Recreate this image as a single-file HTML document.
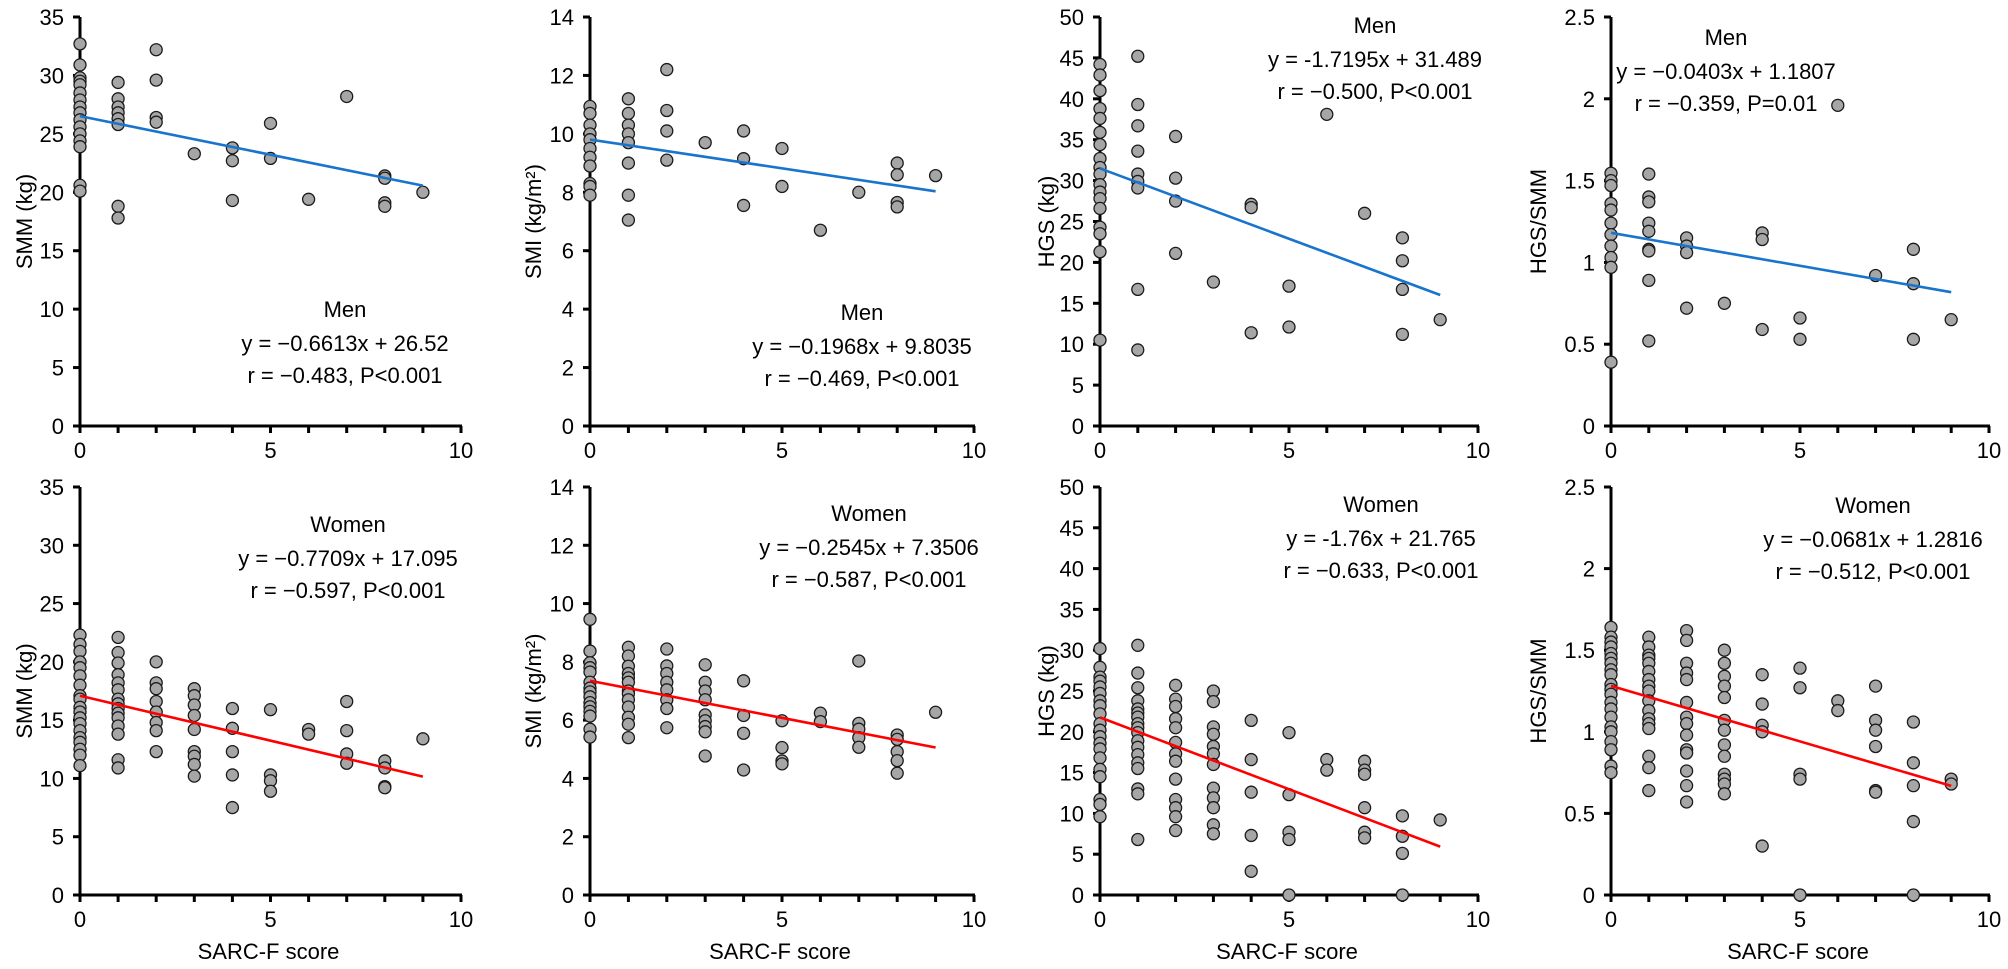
<!DOCTYPE html>
<html><head><meta charset="utf-8">
<style>
html,body{margin:0;padding:0;background:#fff;}
svg{display:block;font-family:"Liberation Sans",Arial,sans-serif;}
</style></head>
<body>
<svg id="chart" width="2008" height="969" viewBox="0 0 2008 969" xmlns="http://www.w3.org/2000/svg"></svg>
<script>
// ---- data: values grouped by SARC-F score (index = score 0..9) ----
const menSMM = [
 [32.7,30.9,29.8,29.5,29.2,28.5,27.9,27.3,26.8,26.2,25.6,25.0,24.4,23.9,20.6,20.1],
 [29.4,28.0,27.3,26.8,26.3,25.8,18.8,17.8],
 [32.2,29.6,26.4,26.0],[23.3],[23.8,22.7,19.3],[25.9,22.9],[19.4],[28.2],
 [21.4,21.2,19.1,18.8],[20.0]];
const menSMI = [
 [10.94,10.7,10.3,10.0,9.8,9.5,9.2,8.9,8.3,8.2,7.9],
 [11.2,10.7,10.3,10.0,9.7,9.0,7.9,7.05],
 [12.2,10.8,10.1,9.1],[9.7],[10.1,9.15,7.55],[9.5,8.2],[6.7],[8.0],
 [9.0,8.6,7.65,7.5],[8.57]];
const menHGS = [
 [44.2,42.9,41.0,38.8,37.6,35.9,34.4,32.7,31.6,30.8,29.5,28.6,27.8,26.6,24.3,23.5,21.3,10.5],
 [45.2,39.3,36.7,33.6,30.8,29.9,29.1,16.7,9.3],
 [35.4,30.3,27.5,21.1],[17.6],[27.1,26.7,11.4],[17.1,12.1],[38.1],[26.0],
 [23.0,20.2,16.7,11.2],[13.0]];
const menRatio = [
 [1.545,1.50,1.47,1.36,1.32,1.24,1.17,1.10,1.03,0.97,0.39],
 [1.54,1.40,1.37,1.24,1.19,1.08,1.07,0.89,0.52],
 [1.15,1.10,1.06,0.72],[0.75],[1.18,1.14,0.59],[0.66,0.53],[1.96],[0.92],
 [1.08,0.87,0.53],[0.65]];
const womenSMM = [
 [22.3,21.5,20.9,20.0,19.5,18.8,18.0,17.1,16.8,16.1,15.7,15.2,14.7,14.1,13.5,13.1,12.5,12.0,11.1],
 [22.1,20.8,19.9,18.9,18.2,17.6,16.8,16.4,16.0,15.6,15.2,14.5,13.8,11.6,10.9],
 [20.0,18.2,17.7,16.6,15.7,14.8,14.1,12.3],
 [17.7,17.1,16.3,15.4,14.2,12.3,11.9,11.2,10.2],
 [16.0,14.3,12.3,10.3,7.5],[15.9,10.3,9.8,8.9],[14.2,13.8],[16.6,14.1,12.1,11.3],
 [11.5,10.9,9.3,9.2],[13.4]];
const womenSMI = [
 [9.46,8.37,7.97,7.8,7.65,7.3,7.1,6.97,6.8,6.6,6.46,6.3,6.14,5.69,5.42],
 [8.5,8.2,7.85,7.6,7.45,7.3,7.0,6.9,6.7,6.45,6.1,5.86,5.4],
 [8.44,7.86,7.6,7.3,7.04,6.7,6.4,5.74],
 [7.9,7.3,7.0,6.7,6.18,5.98,5.78,5.6,4.77],
 [7.35,6.16,5.55,4.29],[5.98,5.06,4.6,4.5],[6.24,5.95],[8.03,5.89,5.69,5.4,5.07],
 [5.49,5.34,4.92,4.61,4.18],[6.27]];
const womenHGS = [
 [30.2,27.9,26.7,26.2,25.5,24.7,23.8,23.2,22.2,21.0,20.2,19.4,18.6,17.9,16.8,15.4,14.5,11.7,11.1,9.6],
 [30.6,27.2,25.4,23.8,22.8,22.3,21.8,21.0,20.5,19.9,18.9,18.1,17.2,16.2,15.5,13.0,12.4,6.8],
 [25.7,24.0,23.1,21.6,20.5,18.7,17.3,16.4,14.2,11.7,10.7,9.6,7.9],
 [25.0,23.7,20.6,19.7,18.2,17.3,16.0,13.1,11.9,10.7,8.6,7.5],
 [21.4,16.6,12.6,7.3,2.9],[19.9,12.3,7.7,6.8,0],[16.6,15.3],[16.4,15.3,14.8,10.7,7.7,7.0],
 [9.7,7.2,5.1,0],[9.2]];
const womenRatio = [
 [1.64,1.58,1.55,1.52,1.48,1.45,1.42,1.38,1.35,1.29,1.26,1.23,1.18,1.14,1.09,1.03,1.0,0.94,0.89,0.79,0.75],
 [1.58,1.52,1.47,1.45,1.42,1.37,1.32,1.28,1.25,1.19,1.13,1.08,1.05,1.02,0.85,0.78,0.64],
 [1.62,1.56,1.42,1.36,1.32,1.18,1.09,1.05,0.98,0.89,0.87,0.76,0.67,0.57],
 [1.50,1.42,1.34,1.28,1.21,1.07,1.01,0.92,0.85,0.74,0.71,0.68,0.62],
 [1.35,1.17,1.04,1.0,0.30],[1.39,1.27,0.74,0.71,0],[1.19,1.13],[1.28,1.07,1.01,0.91,0.64,0.63],
 [1.06,0.81,0.67,0.45,0],[0.71,0.68]];
const slopes = [-0.6613,-0.1968,-1.7195,-0.0403,-0.7709,-0.2545,-1.76,-0.0681];
const intercepts = [26.52,9.8035,31.489,1.1807,17.095,7.3506,21.765,1.2816];
const yMaxes = [35,14,50,2.5,35,14,50,2.5];
const yStepLabels = [["0","5","10","15","20","25","30","35"],["0","2","4","6","8","10","12","14"],
 ["0","5","10","15","20","25","30","35","40","45","50"],["0","0.5","1","1.5","2","2.5"]];
const xTickLabels = ["0","5","10"];
const groupNames = ["Men","Men","Men","Men","Women","Women","Women","Women"];
const eqTexts = ["y = \u22120.6613x + 26.52","y = \u22120.1968x + 9.8035","y = -1.7195x + 31.489","y = \u22120.0403x + 1.1807",
 "y = \u22120.7709x + 17.095","y = \u22120.2545x + 7.3506","y = -1.76x + 21.765","y = \u22120.0681x + 1.2816"];
const rTexts = ["r = \u22120.483, P<0.001","r = \u22120.469, P<0.001","r = \u22120.500, P<0.001","r = \u22120.359, P=0.01",
 "r = \u22120.597, P<0.001","r = \u22120.587, P<0.001","r = \u22120.633, P<0.001","r = \u22120.512, P<0.001"];
const yTitles = ["SMM (kg)","SMI (kg/m\u00B2)","HGS (kg)","HGS/SMM"];
const seriesList = [menSMM,menSMI,menHGS,menRatio,womenSMM,womenSMI,womenHGS,womenRatio];
const panelNames = ["men-smm","men-smi","men-hgs","men-hgs-smm","women-smm","women-smi","women-hgs","women-hgs-smm"];

// ---- layout ----
const colX = [[80,461],[590,974],[1100,1478],[1611,1989]];
const rowY = [[17,426],[487,895]];
const annoPos = [[345,317],[862,320],[1375,33],[1726,45],[348,532],[869,521],[1381,512],[1873,513]];
const titleX = [24,533,1046,1538];

const NS = "http://www.w3.org/2000/svg";
const svg = document.getElementById("chart");
function mk(tag, attrs, parent){const e=document.createElementNS(NS,tag);for(const k in attrs)e.setAttribute(k,attrs[k]);(parent||svg).appendChild(e);return e;}

for(let p=0;p<8;p++){
  const col=p%4,row=Math.floor(p/4);
  const [x0,x1]=colX[col],[yT,yB]=rowY[row];
  const ymax=yMaxes[p];
  const sx=v=>x0+(x1-x0)*v/10;
  const sy=v=>yB-(yB-yT)*v/ymax;
  const g=mk("g",{});
  
  
  const ya=mk("line",{x1:x0,y1:yT,x2:x0,y2:yB+1,stroke:"#000","stroke-width":3},g);
  
  
  const xa=mk("line",{x1:x0-7,y1:yB,x2:x1+1,y2:yB,stroke:"#000","stroke-width":3},g);
  
  
  const labs=yStepLabels[col];
  labs.forEach((t,i)=>{
    const v=ymax*i/(labs.length-1), y=sy(v);
    mk("line",{x1:x0-7,y1:y,x2:x0,y2:y,stroke:"#000","stroke-width":3},g);
    const tx=mk("text",{x:x0-16,y:y+8,"text-anchor":"end","font-size":22,fill:"#000"},g);
    tx.textContent=t;
    
    
  });
  for(let i=0;i<=10;i++){mk("line",{x1:sx(i),y1:yB,x2:sx(i),y2:yB+7,stroke:"#000","stroke-width":3},g);}
  xTickLabels.forEach(t=>{
    const tx=mk("text",{x:sx(+t),y:yB+32,"text-anchor":"middle","font-size":22,fill:"#000"},g);
    tx.textContent=t;
    
    
  });
  const cy=(yT+yB)/2;
  const yt=mk("text",{x:titleX[col],y:cy,"text-anchor":"middle","font-size":22,fill:"#000",transform:`rotate(-90 ${titleX[col]} ${cy}) translate(0 8)`},g);
  yt.textContent=yTitles[col];
  
  
  if(row===1){
    const xt=mk("text",{x:(x0+x1)/2-2,y:yB+64,"text-anchor":"middle","font-size":22,fill:"#000"},g);
    xt.textContent="SARC-F score";
    
    
  }
  seriesList[p].forEach((vals,score)=>{
    vals.forEach(v=>{
      const c=mk("circle",{cx:sx(score),cy:sy(v),r:6,fill:"#a6a6a6",stroke:"#1a1a1a","stroke-width":1.3},g);
      
      
    });
  });
  const ln=mk("line",{x1:sx(0),y1:sy(intercepts[p]),x2:sx(9),y2:sy(intercepts[p]+9*slopes[p]),stroke:row===0?"#1874cd":"#ff0000","stroke-width":2.6},g);
  
  
  const [ax,ay]=annoPos[p];
  [[groupNames[p],0,'group-label'],[eqTexts[p],34,'regression-equation'],[rTexts[p],66,'correlation-label']].forEach(([t,dy,nm])=>{
    const tx=mk("text",{x:ax,y:ay+dy,"text-anchor":"middle","font-size":22,fill:"#000"},g);
    tx.textContent=t;
    
    
  });
}
</script>
</body></html>
